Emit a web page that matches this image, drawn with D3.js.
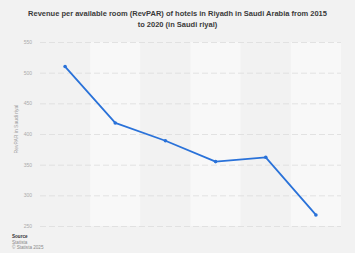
<!DOCTYPE html>
<html><head><meta charset="utf-8">
<script src="https://cdn.jsdelivr.net/npm/d3@7"></script>
<style>
html,body{margin:0;padding:0;background:#f2f2f2;}
svg{display:block;font-family:"Liberation Sans",Arial,sans-serif;}
</style></head>
<body>
<svg id="c" width="355" height="253"></svg>
<script>
const years = ["2015","2016","2017","2018","2019","2020"];
const revpar = [510, 418, 389, 355, 362, 268];
const yTicks = [250, 300, 350, 400, 450, 500, 550];
const yTickLabels = ["250", "300", "350", "400", "450", "500", "550"];
const titleLines = ["Revenue per available room (RevPAR) of hotels in Riyadh in Saudi Arabia from 2015", "to 2020 (in Saudi riyal)"];
const yTitle = "RevPAR in Saudi riyal";
const sourceLines = ["Source", "Statista", "© Statista 2025"];

const svg = d3.select("#c");
const m = {l: 40, r: 341, t: 42, b: 226};

const x = d3.scaleBand().domain(years).range([m.l, m.r]).padding(0);
const y = d3.scaleLinear().domain([250, 550]).range([m.b, m.t]);

// bands
svg.append("g").selectAll("rect").data(years).join("rect")
  .attr("x", d => x(d)).attr("y", m.t).attr("width", x.bandwidth()).attr("height", m.b - m.t)
  .attr("fill", (d, i) => i % 2 ? "#f8f8f8" : "#f2f2f2");

// grid
const yAxis = d3.axisLeft(y).tickValues(yTicks).tickFormat((d, i) => yTickLabels[i]).tickSize(-(m.r - m.l)).tickPadding(8);
const g = svg.append("g").attr("transform", `translate(${m.l},0)`).call(yAxis);
g.select(".domain").remove();
g.selectAll(".tick line").attr("stroke", "#dcdcdc").attr("stroke-width", 0.8).attr("stroke-dasharray", "6,3");
g.selectAll(".tick text").attr("fill", "#aaaaaa").attr("font-size", 5).attr("x", -8).attr("text-anchor", "end");

// y title
svg.append("text").attr("transform", `translate(18,${(m.t + m.b) / 2 - 5}) rotate(-90)`)
  .attr("text-anchor", "middle").attr("font-size", 5).attr("fill", "#a0a0a0").text(yTitle);

// line
const line = d3.line().x((d, i) => x(years[i]) + x.bandwidth() / 2).y(d => y(d));
svg.append("path").datum(revpar).attr("d", line).attr("fill", "none")
  .attr("stroke", "#2a72d9").attr("stroke-width", 1.8).attr("stroke-linejoin", "round");
svg.append("g").selectAll("circle").data(revpar).join("circle")
  .attr("cx", (d, i) => x(years[i]) + x.bandwidth() / 2).attr("cy", d => y(d)).attr("r", 1.8)
  .attr("fill", "#2a72d9");

// title
svg.append("g").selectAll("text").data(titleLines).join("text")
  .attr("x", 177.5).attr("y", (d, i) => 16 + i * 11).attr("text-anchor", "middle")
  .attr("font-size", 7.5).attr("font-weight", "bold").attr("fill", "#3a3a3a").text(d => d);

// source
svg.append("g").selectAll("text").data(sourceLines).join("text")
  .attr("x", 12).attr("y", (d, i) => 238 + i * 5.5).attr("font-size", 4.6)
  .attr("font-weight", (d, i) => i === 0 ? "bold" : "normal")
  .attr("fill", (d, i) => i === 0 ? "#333" : "#8a8a8a").text(d => d);
</script>
</body></html>
